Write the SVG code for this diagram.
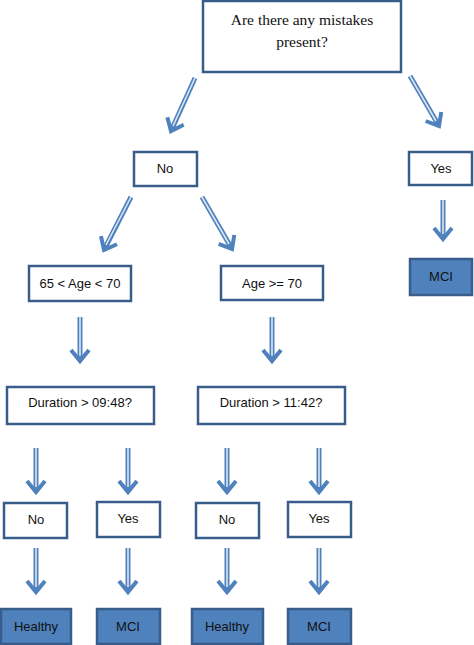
<svg xmlns="http://www.w3.org/2000/svg" width="474" height="645" viewBox="0 0 474 645">
<style>
.box{fill:#fff;stroke:#385d8a;stroke-width:2.5}
.fbox{fill:#4f81bd;stroke:#385d8a;stroke-width:2.5}
.t{font-family:"Liberation Sans","DejaVu Sans",sans-serif;font-size:13px;fill:#111;text-anchor:middle}
.ts{font-family:"Liberation Serif","DejaVu Serif",serif;font-size:15.5px;fill:#111;text-anchor:middle}
.so{stroke:#4f81bd;stroke-width:5;fill:none;marker-end:url(#head)}
.si{stroke:#dce6f2;stroke-width:1.6;fill:none}
</style>
<defs>
<marker id="head" markerUnits="userSpaceOnUse" viewBox="-16 -16 32 32" refX="0" refY="0" markerWidth="32" markerHeight="32" orient="auto" overflow="visible">
<path d="M-11,-9 L0,0 L-11,9" fill="none" stroke="#4f81bd" stroke-width="4"/>
</marker>
</defs>
<g id="connectors">
<line class="so" x1="195" y1="78" x2="171" y2="131"/><line class="si" x1="195" y1="78" x2="173" y2="126"/>
<line class="so" x1="410" y1="76" x2="439" y2="126"/><line class="si" x1="410" y1="76" x2="436" y2="121"/>
<line class="so" x1="131" y1="197" x2="104" y2="250"/><line class="si" x1="131" y1="197" x2="106" y2="245"/>
<line class="so" x1="202" y1="197" x2="232" y2="249"/><line class="si" x1="202" y1="197" x2="229" y2="244"/>
<line class="so" x1="443" y1="200" x2="443" y2="239"/><line class="si" x1="443" y1="200" x2="443" y2="234"/>
<line class="so" x1="80" y1="317" x2="80" y2="361"/><line class="si" x1="80" y1="317" x2="80" y2="356"/>
<line class="so" x1="272" y1="317" x2="272" y2="361"/><line class="si" x1="272" y1="317" x2="272" y2="356"/>
<line class="so" x1="36" y1="448" x2="36" y2="492"/><line class="si" x1="36" y1="448" x2="36" y2="487"/>
<line class="so" x1="128" y1="448" x2="128" y2="492"/><line class="si" x1="128" y1="448" x2="128" y2="487"/>
<line class="so" x1="227" y1="448" x2="227" y2="492"/><line class="si" x1="227" y1="448" x2="227" y2="487"/>
<line class="so" x1="319" y1="448" x2="319" y2="492"/><line class="si" x1="319" y1="448" x2="319" y2="487"/>
<line class="so" x1="36" y1="548" x2="36" y2="592"/><line class="si" x1="36" y1="548" x2="36" y2="587"/>
<line class="so" x1="128" y1="548" x2="128" y2="592"/><line class="si" x1="128" y1="548" x2="128" y2="587"/>
<line class="so" x1="227" y1="548" x2="227" y2="592"/><line class="si" x1="227" y1="548" x2="227" y2="587"/>
<line class="so" x1="319" y1="548" x2="319" y2="592"/><line class="si" x1="319" y1="548" x2="319" y2="587"/>
</g>
<g id="root"><rect class="box" x="203" y="1" width="198" height="71"/><text class="ts" x="302" y="25">Are there any mistakes</text><text class="ts" x="302" y="47">present?</text></g>
<g id="no_top"><rect class="box" x="134" y="152" width="63" height="34"/><text class="t" x="165" y="173">No</text></g>
<g id="yes_top"><rect class="box" x="409" y="152" width="63" height="33"/><text class="t" x="441" y="173">Yes</text></g>
<g id="mci_top"><rect class="fbox" x="410" y="259" width="62" height="36"/><text class="t" x="441" y="281">MCI</text></g>
<g id="age_mid"><rect class="box" x="29" y="266" width="102" height="35"/><text class="t" x="80" y="288">65 &lt; Age &lt; 70</text></g>
<g id="age_old"><rect class="box" x="221" y="266" width="102" height="34"/><text class="t" x="272" y="288">Age &gt;= 70</text></g>
<g id="dur1"><rect class="box" x="7" y="387" width="147" height="37"/><text class="t" x="80" y="407">Duration &gt; 09:48?</text></g>
<g id="dur2"><rect class="box" x="198" y="387" width="147" height="37"/><text class="t" x="271" y="407">Duration &gt; 11:42?</text></g>
<g id="no1"><rect class="box" x="4" y="503" width="63" height="35"/><text class="t" x="36" y="524">No</text></g>
<g id="yes1"><rect class="box" x="97" y="502" width="63" height="35"/><text class="t" x="128" y="523">Yes</text></g>
<g id="no2"><rect class="box" x="196" y="503" width="63" height="35"/><text class="t" x="227" y="524">No</text></g>
<g id="yes2"><rect class="box" x="288" y="502" width="63" height="35"/><text class="t" x="319" y="523">Yes</text></g>
<g id="healthy1"><rect class="fbox" x="1" y="609" width="70" height="35"/><text class="t" x="36" y="631">Healthy</text></g>
<g id="mci1"><rect class="fbox" x="97" y="609" width="63" height="35"/><text class="t" x="128" y="631">MCI</text></g>
<g id="healthy2"><rect class="fbox" x="192" y="609" width="71" height="35"/><text class="t" x="227" y="631">Healthy</text></g>
<g id="mci2"><rect class="fbox" x="288" y="609" width="63" height="35"/><text class="t" x="319" y="631">MCI</text></g>
</svg>
